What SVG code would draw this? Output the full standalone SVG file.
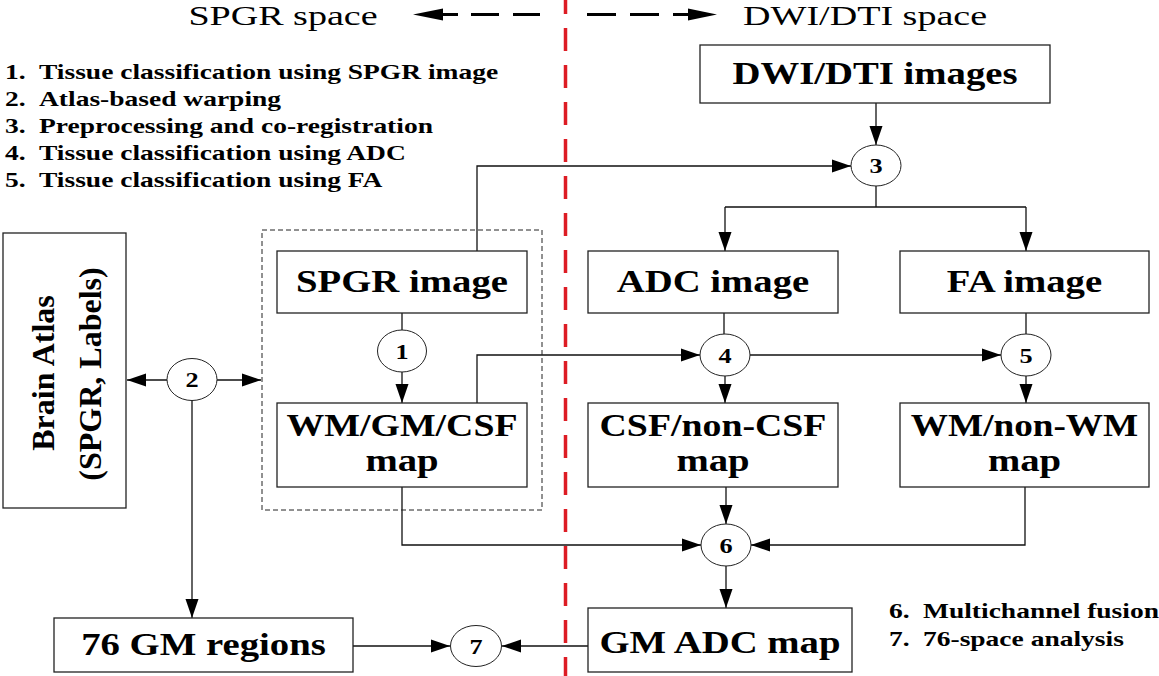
<svg xmlns="http://www.w3.org/2000/svg" width="1159" height="676" viewBox="0 0 1159 676">
<style>
.bx{fill:#fff;stroke:#222;stroke-width:1.3}
.cl{fill:#fff;stroke:#222;stroke-width:1}
.ln{fill:none;stroke:#111;stroke-width:1.3}
.t{font-family:"Liberation Serif","Times New Roman",serif;font-weight:bold;fill:#000}
.bt{font-size:31px;text-anchor:middle}
.ct{font-size:21px;text-anchor:middle}
.lg{font-size:22px}
.hd{font-family:"Liberation Serif","Times New Roman",serif;font-size:28px;fill:#000}
</style>
<defs>
<marker id="ah" markerUnits="userSpaceOnUse" markerWidth="20" markerHeight="14" refX="19" refY="7" orient="auto">
<path d="M0,0.5 L19,7 L0,13.5 z" fill="#000"/>
</marker>
</defs>
<rect width="1159" height="676" fill="#fff"/>

<g id="header">
<text class="hd" text-anchor="middle" transform="translate(283 25) scale(1.36 1)">SPGR space</text>
<text class="hd" transform="translate(743 25) scale(1.36 1)">DWI/DTI space</text>
<g stroke="#000" stroke-width="3">
<line x1="441" y1="14.5" x2="458" y2="14.5"/>
<line x1="471" y1="14.5" x2="499" y2="14.5"/>
<line x1="513" y1="14.5" x2="540" y2="14.5"/>
<line x1="587" y1="14.5" x2="616" y2="14.5"/>
<line x1="630" y1="14.5" x2="659" y2="14.5"/>
<line x1="673" y1="14.5" x2="690" y2="14.5"/>
</g>
<polygon points="443,8.5 413,14.5 443,20.5" fill="#000"/>
<polygon points="688,8.5 717,14.5 688,20.5" fill="#000"/>
<line x1="565.5" y1="0" x2="565.5" y2="676" stroke="#dd1c24" stroke-width="3.5" stroke-dasharray="23 14" stroke-dashoffset="9"/>
</g>

<g id="legend" class="t lg">
<text transform="translate(5 79) scale(1.25 1)">1.</text><text transform="translate(39 79) scale(1.25 1)">Tissue classification using SPGR image</text>
<text transform="translate(5 106) scale(1.25 1)">2.</text><text transform="translate(39 106) scale(1.25 1)">Atlas-based warping</text>
<text transform="translate(5 133) scale(1.25 1)">3.</text><text transform="translate(39 133) scale(1.25 1)">Preprocessing and co-registration</text>
<text transform="translate(5 160) scale(1.25 1)">4.</text><text transform="translate(39 160) scale(1.25 1)">Tissue classification using ADC</text>
<text transform="translate(5 187) scale(1.25 1)">5.</text><text transform="translate(39 187) scale(1.25 1)">Tissue classification using FA</text>
<text transform="translate(889 618) scale(1.25 1)">6.</text><text transform="translate(923 618) scale(1.25 1)">Multichannel fusion</text>
<text transform="translate(889 646) scale(1.25 1)">7.</text><text transform="translate(923 646) scale(1.25 1)">76-space analysis</text>
</g>

<g id="connectors" class="ln">
<path d="M876,103 V145" marker-end="url(#ah)"/>
<path d="M477,251 V166 H851" marker-end="url(#ah)"/>
<path d="M876,186 V207 M725,207 H1026"/>
<path d="M725,207 V251" marker-end="url(#ah)"/>
<path d="M1026,207 V251" marker-end="url(#ah)"/>
<path d="M402,313 V330"/>
<path d="M402,372 V403" marker-end="url(#ah)"/>
<path d="M167,380 H127" marker-end="url(#ah)"/>
<path d="M217,380 H261" marker-end="url(#ah)"/>
<path d="M192,400 V618" marker-end="url(#ah)"/>
<path d="M477,403 V355 H700" marker-end="url(#ah)"/>
<path d="M724,313 V334"/>
<path d="M750,355 H1001" marker-end="url(#ah)"/>
<path d="M1026,313 V334"/>
<path d="M725,376 V403" marker-end="url(#ah)"/>
<path d="M1026,376 V403" marker-end="url(#ah)"/>
<path d="M726,487 V524" marker-end="url(#ah)"/>
<path d="M402,487 V545 H701" marker-end="url(#ah)"/>
<path d="M1025,487 V545 H751" marker-end="url(#ah)"/>
<path d="M726,566 V608" marker-end="url(#ah)"/>
<path d="M588,646 H502" marker-end="url(#ah)"/>
<path d="M353,646 H450" marker-end="url(#ah)"/>
</g>

<g id="spgr-group">
<rect x="262" y="230" width="280" height="280" fill="none" stroke="#222" stroke-width="1" stroke-dasharray="5 3"/>
</g>

<g id="dwi" class="t bt">
<rect class="bx" x="700" y="45" width="350" height="58"/>
<text transform="translate(875 84) scale(1.25 1)">DWI/DTI images</text>
</g>
<g id="spgr" class="t bt">
<rect class="bx" x="277" y="251" width="250" height="62"/>
<text transform="translate(402 292) scale(1.25 1)">SPGR image</text>
</g>
<g id="adc" class="t bt">
<rect class="bx" x="588" y="251" width="250" height="62"/>
<text transform="translate(713 292) scale(1.25 1)">ADC image</text>
</g>
<g id="fa" class="t bt">
<rect class="bx" x="900" y="251" width="249" height="62"/>
<text transform="translate(1024.5 292) scale(1.25 1)">FA image</text>
</g>
<g id="wmgmcsf" class="t bt">
<rect class="bx" x="277" y="403" width="250" height="84"/>
<text transform="translate(402 436) scale(1.22 1)">WM/GM/CSF</text>
<text transform="translate(402 471) scale(1.25 1)">map</text>
</g>
<g id="csf" class="t bt">
<rect class="bx" x="588" y="403" width="250" height="84"/>
<text transform="translate(713 436) scale(1.22 1)">CSF/non-CSF</text>
<text transform="translate(713 471) scale(1.25 1)">map</text>
</g>
<g id="wm" class="t bt">
<rect class="bx" x="900" y="403" width="249" height="84"/>
<text transform="translate(1024.5 436) scale(1.2 1)">WM/non-WM</text>
<text transform="translate(1024.5 471) scale(1.25 1)">map</text>
</g>
<g id="gmadc" class="t bt">
<rect class="bx" x="588" y="608" width="264" height="64"/>
<text transform="translate(720 653) scale(1.25 1)">GM ADC map</text>
</g>
<g id="gm76" class="t bt">
<rect class="bx" x="54" y="618" width="299" height="54"/>
<text transform="translate(203.5 655) scale(1.25 1)">76 GM regions</text>
</g>
<g id="atlas" class="t" style="font-size:32px;text-anchor:middle">
<rect class="bx" x="3" y="233" width="123" height="275"/>
<text transform="translate(54 373) rotate(-90)">Brain Atlas</text>
<text transform="translate(101 374) rotate(-90)">(SPGR, Labels)</text>
</g>

<g id="c1" class="t ct"><ellipse class="cl" cx="402" cy="351" rx="24.5" ry="21"/><text transform="translate(402 358.5) scale(1.25 1)">1</text></g>
<g id="c2" class="t ct"><ellipse class="cl" cx="192" cy="379.5" rx="25" ry="21"/><text transform="translate(192 387) scale(1.25 1)">2</text></g>
<g id="c3" class="t ct"><ellipse class="cl" cx="876" cy="165.5" rx="25" ry="20.5"/><text transform="translate(876 173) scale(1.25 1)">3</text></g>
<g id="c4" class="t ct"><ellipse class="cl" cx="725" cy="355" rx="25" ry="21"/><text transform="translate(725 362.5) scale(1.25 1)">4</text></g>
<g id="c5" class="t ct"><ellipse class="cl" cx="1026" cy="355" rx="25" ry="21"/><text transform="translate(1026 362.5) scale(1.25 1)">5</text></g>
<g id="c6" class="t ct"><ellipse class="cl" cx="726" cy="545" rx="25" ry="21"/><text transform="translate(726 552.5) scale(1.25 1)">6</text></g>
<g id="c7" class="t ct"><ellipse class="cl" cx="476" cy="646" rx="25.5" ry="20.5"/><text transform="translate(476 653.5) scale(1.25 1)">7</text></g>
</svg>
